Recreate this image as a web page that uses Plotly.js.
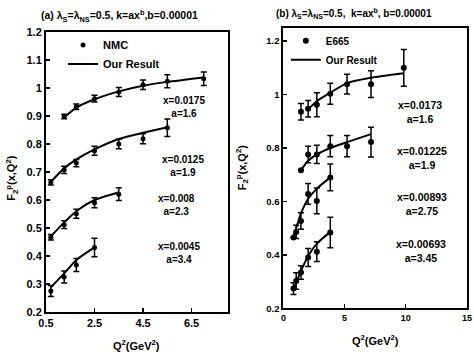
<!DOCTYPE html>
<html>
<head>
<meta charset="utf-8">
<script src="https://cdn.plot.ly/plotly-3.0.1.min.js"></script>
<style>html,body{margin:0;padding:0;background:#fff;}#chart{width:474px;height:356px;}</style>
</head>
<body>
<div id="chart"></div>
<script>
// ---------- Panel (a): NMC ----------
const nmcQ2_0175 = [1.25, 1.75, 2.5, 3.5, 4.5, 5.5, 7.0];
const nmcF2_0175 = [0.898, 0.933, 0.962, 0.986, 1.012, 1.024, 1.033];
const nmcErr_0175 = [0.008, 0.010, 0.012, 0.016, 0.017, 0.023, 0.024];
const fitF2_0175 = [0.895, 0.930, 0.960, 0.988, 1.008, 1.022, 1.038];

const nmcQ2_0125 = [0.7, 1.25, 1.75, 2.5, 3.5, 4.5, 5.5];
const nmcF2_0125 = [0.663, 0.708, 0.732, 0.776, 0.800, 0.819, 0.858];
const nmcErr_0125 = [0.009, 0.013, 0.013, 0.016, 0.017, 0.018, 0.031];
const fitF2_0125 = [0.665, 0.713, 0.745, 0.781, 0.818, 0.840, 0.860];

const nmcQ2_008 = [0.7, 1.25, 1.75, 2.5, 3.5];
const nmcF2_008 = [0.467, 0.512, 0.551, 0.590, 0.621];
const nmcErr_008 = [0.010, 0.014, 0.016, 0.018, 0.023];
const fitF2_008 = [0.470, 0.520, 0.560, 0.600, 0.628];

const nmcQ2_0045 = [0.7, 1.25, 1.75, 2.5];
const nmcF2_0045 = [0.275, 0.325, 0.368, 0.430];
const nmcErr_0045 = [0.020, 0.021, 0.023, 0.033];
const fitF2_0045 = [0.288, 0.338, 0.386, 0.431];

// ---------- Panel (b): E665 ----------
const e665Q2_0173 = [1.43, 2.02, 2.73, 3.83, 5.2, 7.16, 9.84];
const e665F2_0173 = [0.936, 0.947, 0.962, 1.003, 1.039, 1.039, 1.100];
const e665Err_0173 = [0.031, 0.031, 0.045, 0.039, 0.037, 0.050, 0.069];
const fitQ2_0173 = [2.02, 2.73, 3.83, 5.2, 7.16, 9.84];
const fitF2_0173 = [0.945, 0.975, 1.007, 1.043, 1.063, 1.080];

const e665Q2_01225 = [1.43, 2.02, 2.73, 3.83, 5.2, 7.16];
const e665F2_01225 = [0.717, 0.776, 0.776, 0.807, 0.807, 0.822];
const e665Err_01225 = [0, 0.031, 0.034, 0.040, 0.040, 0.056];
const fitF2_01225 = [0.717, 0.752, 0.776, 0.800, 0.822, 0.852];

const e665Q2_00893 = [0.82, 1.04, 1.43, 2.02, 2.73, 3.83];
const e665F2_00893 = [0.465, 0.486, 0.527, 0.628, 0.602, 0.690];
const e665Err_00893 = [0, 0.025, 0.031, 0.039, 0.048, 0.050];
const fitF2_00893 = [0.470, 0.500, 0.555, 0.610, 0.648, 0.690];

const e665Q2_00693 = [0.82, 1.04, 1.43, 2.02, 2.73, 3.83];
const e665F2_00693 = [0.274, 0.302, 0.334, 0.390, 0.412, 0.484];
const e665Err_00693 = [0.022, 0.031, 0.025, 0.034, 0.037, 0.057];
const fitF2_00693 = [0.270, 0.295, 0.340, 0.395, 0.442, 0.486];

const labelsA = [
  {x: 6.17, y: 0.931, t: 'x=0.0175<br>a=1.6'},
  {x: 6.15, y: 0.721, t: 'x=0.0125<br>a=1.9'},
  {x: 5.87, y: 0.581, t: 'x=0.008<br>a=2.3'},
  {x: 5.97, y: 0.410, t: 'x=0.0045<br>a=3.4'}
];
const labelsB = [
  {x: 11.15, y: 0.933, t: 'x=0.0173<br>a=1.6'},
  {x: 11.34, y: 0.762, t: 'x=0.01225<br>a=1.9'},
  {x: 11.29, y: 0.591, t: 'x=0.00893<br>a=2.75'},
  {x: 11.26, y: 0.413, t: 'x=0.00693<br>a=3.45'}
];

const FONT = 'Liberation Sans, Arial, sans-serif';
const traces = [];

function dataTrace(x, y, err, xa, ya, size, name, show, legend) {
  return {
    x: x, y: y, type: 'scatter', mode: 'markers', xaxis: xa, yaxis: ya,
    marker: {color: 'black', size: size, symbol: 'circle'},
    error_y: {type: 'data', array: err, visible: true, color: 'black', thickness: 1.5, width: 3},
    name: name, showlegend: show, legend: legend, hoverinfo: 'skip'
  };
}
function fitTrace(x, y, xa, ya, name, show, legend) {
  return {
    x: x, y: y, type: 'scatter', mode: 'lines', xaxis: xa, yaxis: ya,
    line: {color: 'black', width: 2, shape: 'spline', smoothing: 0.6},
    name: name, showlegend: show, legend: legend, hoverinfo: 'skip'
  };
}

traces.push(dataTrace(nmcQ2_0175, nmcF2_0175, nmcErr_0175, 'x', 'y', 5, 'NMC', true, 'legend'));
traces.push(fitTrace(nmcQ2_0175, fitF2_0175, 'x', 'y', 'Our Result', true, 'legend'));
traces.push(dataTrace(nmcQ2_0125, nmcF2_0125, nmcErr_0125, 'x', 'y', 5, 'NMC', false, 'legend'));
traces.push(fitTrace(nmcQ2_0125, fitF2_0125, 'x', 'y', 'Our Result', false, 'legend'));
traces.push(dataTrace(nmcQ2_008, nmcF2_008, nmcErr_008, 'x', 'y', 5, 'NMC', false, 'legend'));
traces.push(fitTrace(nmcQ2_008, fitF2_008, 'x', 'y', 'Our Result', false, 'legend'));
traces.push(dataTrace(nmcQ2_0045, nmcF2_0045, nmcErr_0045, 'x', 'y', 5, 'NMC', false, 'legend'));
traces.push(fitTrace(nmcQ2_0045, fitF2_0045, 'x', 'y', 'Our Result', false, 'legend'));

traces.push(dataTrace(e665Q2_0173, e665F2_0173, e665Err_0173, 'x2', 'y2', 6, 'E665', true, 'legend2'));
traces.push(fitTrace(fitQ2_0173, fitF2_0173, 'x2', 'y2', 'Our Result', true, 'legend2'));
traces.push(dataTrace(e665Q2_01225, e665F2_01225, e665Err_01225, 'x2', 'y2', 6, 'E665', false, 'legend2'));
traces.push(fitTrace(e665Q2_01225, fitF2_01225, 'x2', 'y2', 'Our Result', false, 'legend2'));
traces.push(dataTrace(e665Q2_00893, e665F2_00893, e665Err_00893, 'x2', 'y2', 6, 'E665', false, 'legend2'));
traces.push(fitTrace(e665Q2_00893, fitF2_00893, 'x2', 'y2', 'Our Result', false, 'legend2'));
traces.push(dataTrace(e665Q2_00693, e665F2_00693, e665Err_00693, 'x2', 'y2', 6, 'E665', false, 'legend2'));
traces.push(fitTrace(e665Q2_00693, fitF2_00693, 'x2', 'y2', 'Our Result', false, 'legend2'));

const axisCommon = {
  showgrid: false, zeroline: false, showline: true, mirror: true,
  linecolor: 'black', linewidth: 2, ticks: 'inside', ticklen: 4, tickwidth: 1.5,
  tickcolor: 'black'
};

const annotations = [];
function addAnn(xref, yref, x, y, text, size, extra) {
  annotations.push(Object.assign({
    xref: xref, yref: yref, x: x, y: y, text: text, showarrow: false,
    xanchor: 'center', yanchor: 'middle',
    font: {family: FONT, size: size, color: 'black', weight: 'bold'}
  }, extra || {}));
}
labelsA.forEach(l => addAnn('x', 'y', l.x, l.y, l.t, 10));
labelsB.forEach(l => addAnn('x2', 'y2', l.x, l.y, l.t, 10.5));
addAnn('paper', 'paper', 0.253, 0.955, '(a) λ<sub>S</sub>=λ<sub>NS</sub>=0.5, k=ax<sup>b</sup>,b=0.00001', 10.5);
addAnn('paper', 'paper', 0.747, 0.961, '(b) λ<sub>S</sub>=λ<sub>NS</sub>=0.5,  k=ax<sup>b</sup>, b=0.00001', 10);
addAnn('paper', 'paper', 0.289, 0.031, 'Q<sup>2</sup>(GeV<sup>2</sup>)', 11);
addAnn('paper', 'paper', 0.792, 0.045, 'Q<sup>2</sup>(GeV<sup>2</sup>)', 11);
addAnn('paper', 'paper', 0.0247, 0.50, 'F<sub>2</sub><sup>p</sup>(x,Q<sup>2</sup>)', 11, {textangle: -90});
addAnn('paper', 'paper', 0.511, 0.528, 'F<sub>2</sub><sup>p</sup>(x,Q<sup>2</sup>)', 11, {textangle: -90});

const layout = {
  width: 474, height: 356,
  margin: {l: 0, r: 0, t: 0, b: 0},
  paper_bgcolor: 'white', plot_bgcolor: 'white',
  font: {family: FONT, color: 'black', weight: 'bold'},
  xaxis: Object.assign({}, axisCommon, {
    domain: [0.097, 0.481], range: [0.5, 8.0], anchor: 'y',
    tickvals: [0.5, 2.5, 4.5, 6.5], ticktext: ['0.5', '2.5', '4.5', '6.5'],
    tickfont: {family: FONT, size: 11, weight: 'bold'}
  }),
  yaxis: Object.assign({}, axisCommon, {
    domain: [0.1236, 0.910], range: [0.2, 1.2], anchor: 'x',
    tickvals: [0.2, 0.3, 0.4, 0.5, 0.6, 0.7, 0.8, 0.9, 1.0, 1.1, 1.2],
    ticktext: ['0.2', '0.3', '0.4', '0.5', '0.6', '0.7', '0.8', '0.9', '1', '1.1', '1.2'],
    tickfont: {family: FONT, size: 11, weight: 'bold'}
  }),
  xaxis2: Object.assign({}, axisCommon, {
    domain: [0.598, 0.985], range: [0, 15], anchor: 'y2',
    tickvals: [0, 5, 10, 15], ticktext: ['0', '5', '10', '15'],
    tickfont: {family: FONT, size: 9, weight: 'bold'}
  }),
  yaxis2: Object.assign({}, axisCommon, {
    domain: [0.134, 0.922], range: [0.2, 1.25], anchor: 'x2',
    tickvals: [0.2, 0.4, 0.6, 0.8, 1.0, 1.2],
    ticktext: ['0.2', '0.4', '0.6', '0.8', '1', '1.2'],
    tickfont: {family: FONT, size: 9.5, weight: 'bold'}
  }),
  legend: {
    x: 0.133, y: 0.914, xanchor: 'left', yanchor: 'top', bgcolor: 'rgba(0,0,0,0)',
    font: {family: FONT, size: 11, color: 'black', weight: 'bold'}, itemwidth: 30,
    tracegroupgap: 0
  },
  legend2: {
    x: 0.603, y: 0.926, xanchor: 'left', yanchor: 'top', bgcolor: 'rgba(0,0,0,0)',
    font: {family: FONT, size: 10, color: 'black', weight: 'bold'}, itemwidth: 30,
    tracegroupgap: 0
  },
  annotations: annotations
};

Plotly.newPlot('chart', traces, layout, {displayModeBar: false, staticPlot: true});
</script>
</body>
</html>
